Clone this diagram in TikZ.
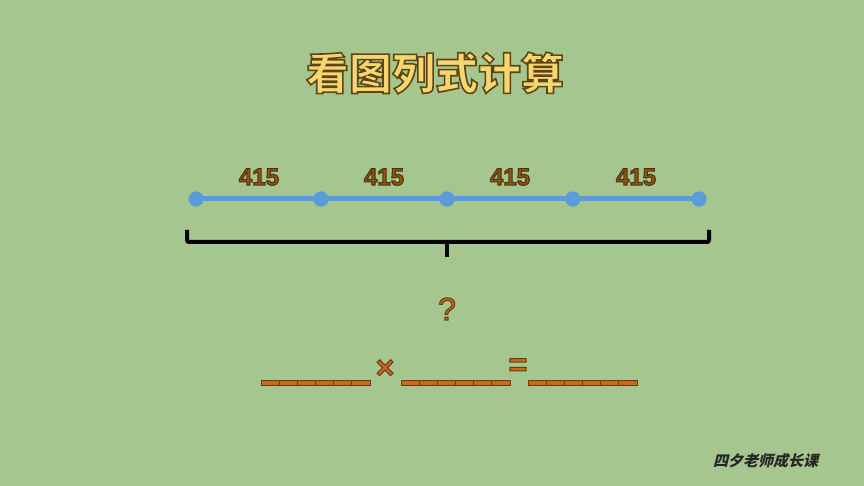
\documentclass[tikz,border=0pt]{standalone}
\usepackage{fontspec}
\setmainfont{Liberation Sans}
\newfontfamily\cjk{Noto Sans CJK SC}
\usetikzlibrary{positioning}

\definecolor{bggreen}{HTML}{A5C68F}
\definecolor{lineblue}{HTML}{5B9BD8}
\definecolor{titlegold}{HTML}{F6D66E}
\definecolor{numbrown}{HTML}{8E5714}
\definecolor{segfill}{HTML}{C8691F}
\definecolor{segedge}{HTML}{6A3A10}

% text with a dark edge: #1 stroke rgb, #2 stroke width, #3 text
\newcommand\edgetext[3]{\special{pdf:literal direct 2 Tr #2 w #1 RG}#3\special{pdf:literal direct 0 Tr 0.4 w}}

\tikzset{
  dot/.style={circle,fill=lineblue,inner sep=0pt,minimum size=15pt},
  titletxt/.style={font=\cjk\bfseries\fontsize{43}{43}\selectfont,inner sep=0pt,text=titlegold},
  numtxt/.style={font=\bfseries\fontsize{24}{24}\selectfont,inner sep=0pt,text=numbrown},
  signtxt/.style={font=\bfseries\fontsize{32}{32}\selectfont,inner sep=0pt,text=segfill},
  blankseg/.style={draw=segedge,fill=segfill,line width=0.8pt},
}

\begin{document}
\begin{tikzpicture}[x=1pt,y=-1pt]
  % background
  \fill[bggreen] (0,0) rectangle (864,486);
  \useasboundingbox (0,0) rectangle (864,486);

  % title
  \node[titletxt] (title) at (435,73) {\edgetext{0.37 0.27 0.09}{1.6}{看图列式计算}};

  % number line
  \node[dot] (p0) at (196,199) {};
  \node[dot] (p1) at (321,199) {};
  \node[dot] (p2) at (447,199) {};
  \node[dot] (p3) at (573,199) {};
  \node[dot] (p4) at (699,199) {};
  \draw[lineblue,line width=5pt] (p0.center) -- (p1.center) -- (p2.center) -- (p3.center) -- (p4.center);
  \foreach \i in {0,...,4}
    \node[dot] at (p\i) {};

  % labels 415
  \foreach \i/\x in {0/259,1/384,2/510,3/636}
    \node[numtxt] (num\i) at (\x,177) {\edgetext{0.3 0.19 0.03}{1}{415}};

  % brace
  \coordinate (braceL) at (187,230);
  \coordinate (braceR) at (709,230);
  \coordinate (braceM) at (447,242);
  \draw[black,line width=4pt,rounded corners=2pt]
    (braceL) -- (187,242) -- (709,242) -- (braceR);
  \draw[black,line width=4pt] (braceM) -- (447,257);

  % question mark
  \node[signtxt,font=\fontsize{32}{32}\selectfont] (question) at (447,309) {\edgetext{0.42 0.23 0.06}{1}{?}};

  % blanks
  \foreach \b/\x in {A/261,B/401,C/528} {
    \coordinate (blank\b) at (\x,383);
    \foreach \i in {0,...,5}
      \draw[blankseg] ([xshift=\i*18.17pt,yshift=2.5pt]blank\b) rectangle ++(18.17,5);
  }

  % times and equals
  \node[signtxt] (times) at (385,369) {\edgetext{0.42 0.23 0.06}{1}{×}};
  \node[signtxt] (equals) at (518,367) {\edgetext{0.42 0.23 0.06}{1}{=}};

  % watermark
  \node[font=\cjk\bfseries\fontsize{15}{15}\selectfont,text=black!85,xslant=0.25,transform shape] (mark) at (767,461) {四夕老师成长课};
\end{tikzpicture}
\end{document}
